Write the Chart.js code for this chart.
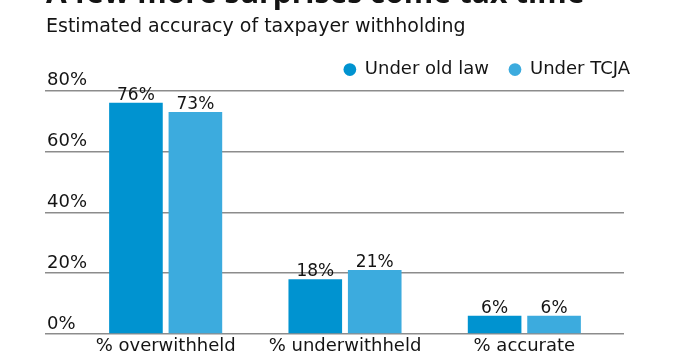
<!DOCTYPE html>
<html>
<head>
<meta charset="utf-8">
<script src="https://cdn.jsdelivr.net/npm/chart.js@4"></script>
<style>
  html, body { margin: 0; padding: 0; background: #fff; }
  #wrap { position: relative; width: 680px; height: 357px; overflow: hidden; }
  #inner { position: absolute; left: 0; top: -30px; width: 680px; height: 387px; }
</style>
</head>
<body>
<div id="wrap"><div id="inner"><canvas id="c"></canvas></div></div>
<script>
const titleText = 'A few more surprises come tax time';
const subtitleText = 'Estimated accuracy of taxpayer withholding';
const categories = ['% overwithheld', '% underwithheld', '% accurate'];
const seriesNames = ['Under old law', 'Under TCJA'];
const oldLaw = [76, 18, 6];
const tcja = [73, 21, 6];
const yTicks = [0, 20, 40, 60, 80];

const FONT = "'DejaVu Sans', sans-serif";
const TITLE_FONT = "'Open Sans', sans-serif";
const TEXT = '#141414';
const GRID = '#8c8c8c';

const valueLabels = {
  id: 'valueLabels',
  afterDatasetsDraw(chart) {
    const ctx = chart.ctx;
    ctx.save();
    ctx.font = '17px ' + FONT;
    ctx.fillStyle = TEXT;
    ctx.textAlign = 'center';
    ctx.textBaseline = 'alphabetic';
    chart.data.datasets.forEach((ds, i) => {
      chart.getDatasetMeta(i).data.forEach((el, j) => {
        ctx.fillText(ds.data[j] + '%', el.x, el.y - 3);
      });
    });
    ctx.restore();
  }
};

new Chart(document.getElementById('c'), {
  type: 'bar',
  data: {
    labels: categories,
    datasets: [
      { label: seriesNames[0], data: oldLaw, backgroundColor: '#0093d0', borderWidth: 0,
        xAxisID: 'x', yAxisID: 'y', categoryPercentage: 0.663, barPercentage: 0.902 },
      { label: seriesNames[1], data: tcja, backgroundColor: '#3cabde', borderWidth: 0,
        xAxisID: 'x', yAxisID: 'y', categoryPercentage: 0.663, barPercentage: 0.902 }
    ]
  },
  options: {
    responsive: true,
    maintainAspectRatio: false,
    animation: false,
    layout: { padding: { left: 46, right: 30, top: 0, bottom: 0 } },
    plugins: {
      title: {
        display: true, text: titleText, align: 'start', color: TEXT,
        font: { family: TITLE_FONT, size: 30, weight: 'bold' },
        padding: { top: 6, bottom: 0 }
      },
      subtitle: {
        display: true, text: subtitleText, align: 'start', color: TEXT,
        font: { family: FONT, size: 19 },
        padding: { top: 4, bottom: 1.8 }
      },
      legend: {
        display: true, position: 'top', align: 'end',
        labels: {
          usePointStyle: true, pointStyle: 'circle', boxWidth: 12, boxHeight: 9,
          padding: 20, color: TEXT, font: { family: FONT, size: 18 }
        }
      },
      tooltip: { enabled: false }
    },
    scales: {
      x: {
        grid: { display: false, drawTicks: false },
        border: { display: false },
        ticks: { color: TEXT, font: { family: FONT, size: 18 }, padding: 2 },
        afterFit(s) { s.height = 23; }
      },
      xTopSpacer: {
        type: 'category', position: 'top', axis: 'x',
        grid: { display: false, drawTicks: false },
        border: { display: false },
        ticks: { display: false },
        afterFit(s) { s.height = 2; }
      },
      y: {
        min: yTicks[0], max: yTicks[yTicks.length - 1],
        afterBuildTicks(s) { s.ticks = yTicks.map(v => ({ value: v })); },
        grid: { color: GRID, lineWidth: 1.5, drawTicks: true, tickLength: 31, tickColor: GRID },
        border: { display: false },
        ticks: {
          mirror: true, padding: -29, labelOffset: -10, color: TEXT,
          font: { family: FONT, size: 18 },
          callback: v => v + '%'
        },
        afterFit(s) { s.width = 30; }
      },
      y2: {
        position: 'right', min: yTicks[0], max: yTicks[yTicks.length - 1],
        afterBuildTicks(s) { s.ticks = yTicks.map(v => ({ value: v })); },
        grid: { color: GRID, lineWidth: 1.5, drawOnChartArea: false, drawTicks: true, tickLength: 10, tickColor: GRID },
        border: { display: false },
        ticks: { display: false },
        afterFit(s) { s.width = 36; }
      }
    }
  },
  plugins: [valueLabels]
});
</script>
</body>
</html>
